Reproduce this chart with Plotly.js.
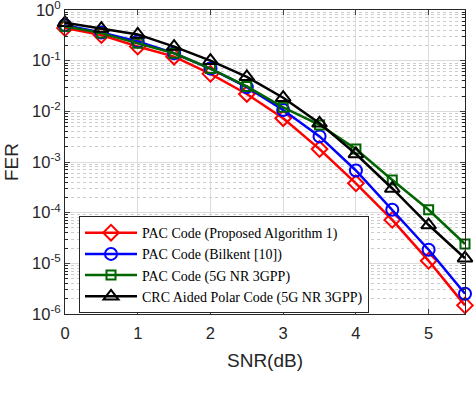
<!DOCTYPE html>
<html><head><meta charset="utf-8">
<script src="https://cdn.plot.ly/plotly-3.0.1.min.js"></script>
<style>body{margin:0;padding:0;background:#fff}#chart{width:474px;height:394px}</style>
</head><body><div id="chart"></div>
<script>
const snr = [0, 0.5, 1, 1.5, 2, 2.5, 3, 3.5, 4, 4.5, 5, 5.5];
const pacProposed = [0.44, 0.32, 0.19, 0.12, 0.055, 0.022, 0.0073, 0.0018, 3.8e-4, 7.2e-5, 1.12e-5, 1.48e-6];
const pacBilkent  = [0.50, 0.36, 0.24, 0.14, 0.070, 0.030, 0.0106, 0.0032, 6.8e-4, 1.14e-4, 1.85e-5, 2.5e-6];
const pac5G       = [0.48, 0.35, 0.22, 0.14, 0.070, 0.031, 0.012, 0.0054, 1.8e-3, 4.4e-4, 1.14e-4, 2.4e-5];
const crcPolar    = [0.56, 0.43, 0.33, 0.19, 0.10, 0.048, 0.0186, 0.0058, 1.44e-3, 3.0e-4, 5.7e-5, 1.26e-5];
const seriesNames = ['PAC Code (Proposed Algorithm 1)', 'PAC Code (Bilkent [10])', 'PAC Code (5G NR 3GPP)', 'CRC Aided Polar Code (5G NR 3GPP)'];
const yTickVals = [1e-6, 1e-5, 1e-4, 1e-3, 1e-2, 1e-1, 1];
const yTickText = ['10<sup>-6</sup>', '10<sup>-5</sup>', '10<sup>-4</sup>', '10<sup>-3</sup>', '10<sup>-2</sup>', '10<sup>-1</sup>', '10<sup>0</sup>'];

const colors = ['#ff0000', '#0000ff', '#006400', '#000000'];
const symbols = ['diamond-open', 'circle-open', 'square-open', 'triangle-up-open'];
const sizes = [12, 12, 9, 13];
const ys = [pacProposed, pacBilkent, pac5G, crcPolar];

const traces = ys.map((y, i) => ({
  x: snr, y: y, name: seriesNames[i], type: 'scatter', mode: 'lines+markers',
  line: {color: colors[i], width: 2.5},
  marker: {symbol: symbols[i], size: sizes[i], color: colors[i], line: {color: colors[i], width: 2}},
  cliponaxis: false
}));

const minorVals = [];
for (let e = -6; e < 0; e++) for (let m = 2; m <= 9; m++) minorVals.push(m * Math.pow(10, e));

const layout = {
  width: 474, height: 394,
  margin: {l: 65, r: 9, t: 10, b: 80},
  paper_bgcolor: '#fff', plot_bgcolor: '#fff',
  font: {family: 'Liberation Sans, Arial, sans-serif', color: '#262626', size: 14},
  showlegend: true,
  legend: {
    x: 0.035, y: 0.322, xanchor: 'left', yanchor: 'top',
    bgcolor: '#fff', bordercolor: '#262626', borderwidth: 1,
    font: {family: 'Liberation Serif, Times New Roman, serif', size: 14, color: '#000'},
    tracegroupgap: 0, itemwidth: 52
  },
  xaxis: {
    range: [0, 5.5], tickvals: [0, 1, 2, 3, 4, 5], ticks: 'inside', ticklen: 5,
    showline: true, linecolor: '#262626', linewidth: 1, mirror: 'ticks',
    showgrid: true, gridcolor: '#dcdcdc', gridwidth: 1, zeroline: false,
    tickfont: {size: 16.5}, ticklabelstandoff: 4, ticklabeloverflow: 'allow',
    title: {text: 'SNR(dB)', font: {size: 19}, standoff: 12}
  },
  yaxis: {
    type: 'log', range: [-6.0005, 0.0005], tickvals: yTickVals, ticktext: yTickText,
    ticks: 'inside', ticklen: 5, ticklabeloverflow: 'allow',
    showline: true, linecolor: '#262626', linewidth: 1, mirror: 'ticks',
    showgrid: true, gridcolor: '#dcdcdc', gridwidth: 1, zeroline: false,
    tickfont: {size: 16.5},
    minor: {tickvals: minorVals, ticks: 'inside', ticklen: 3, tickcolor: '#262626', showgrid: true, gridcolor: '#cccccc', griddash: 'dot', gridwidth: 1},
    title: {text: 'FER', font: {size: 19}, standoff: 8}
  }
};

Plotly.newPlot('chart', traces, layout, {displayModeBar: false, staticPlot: true});
</script>
</body></html>
